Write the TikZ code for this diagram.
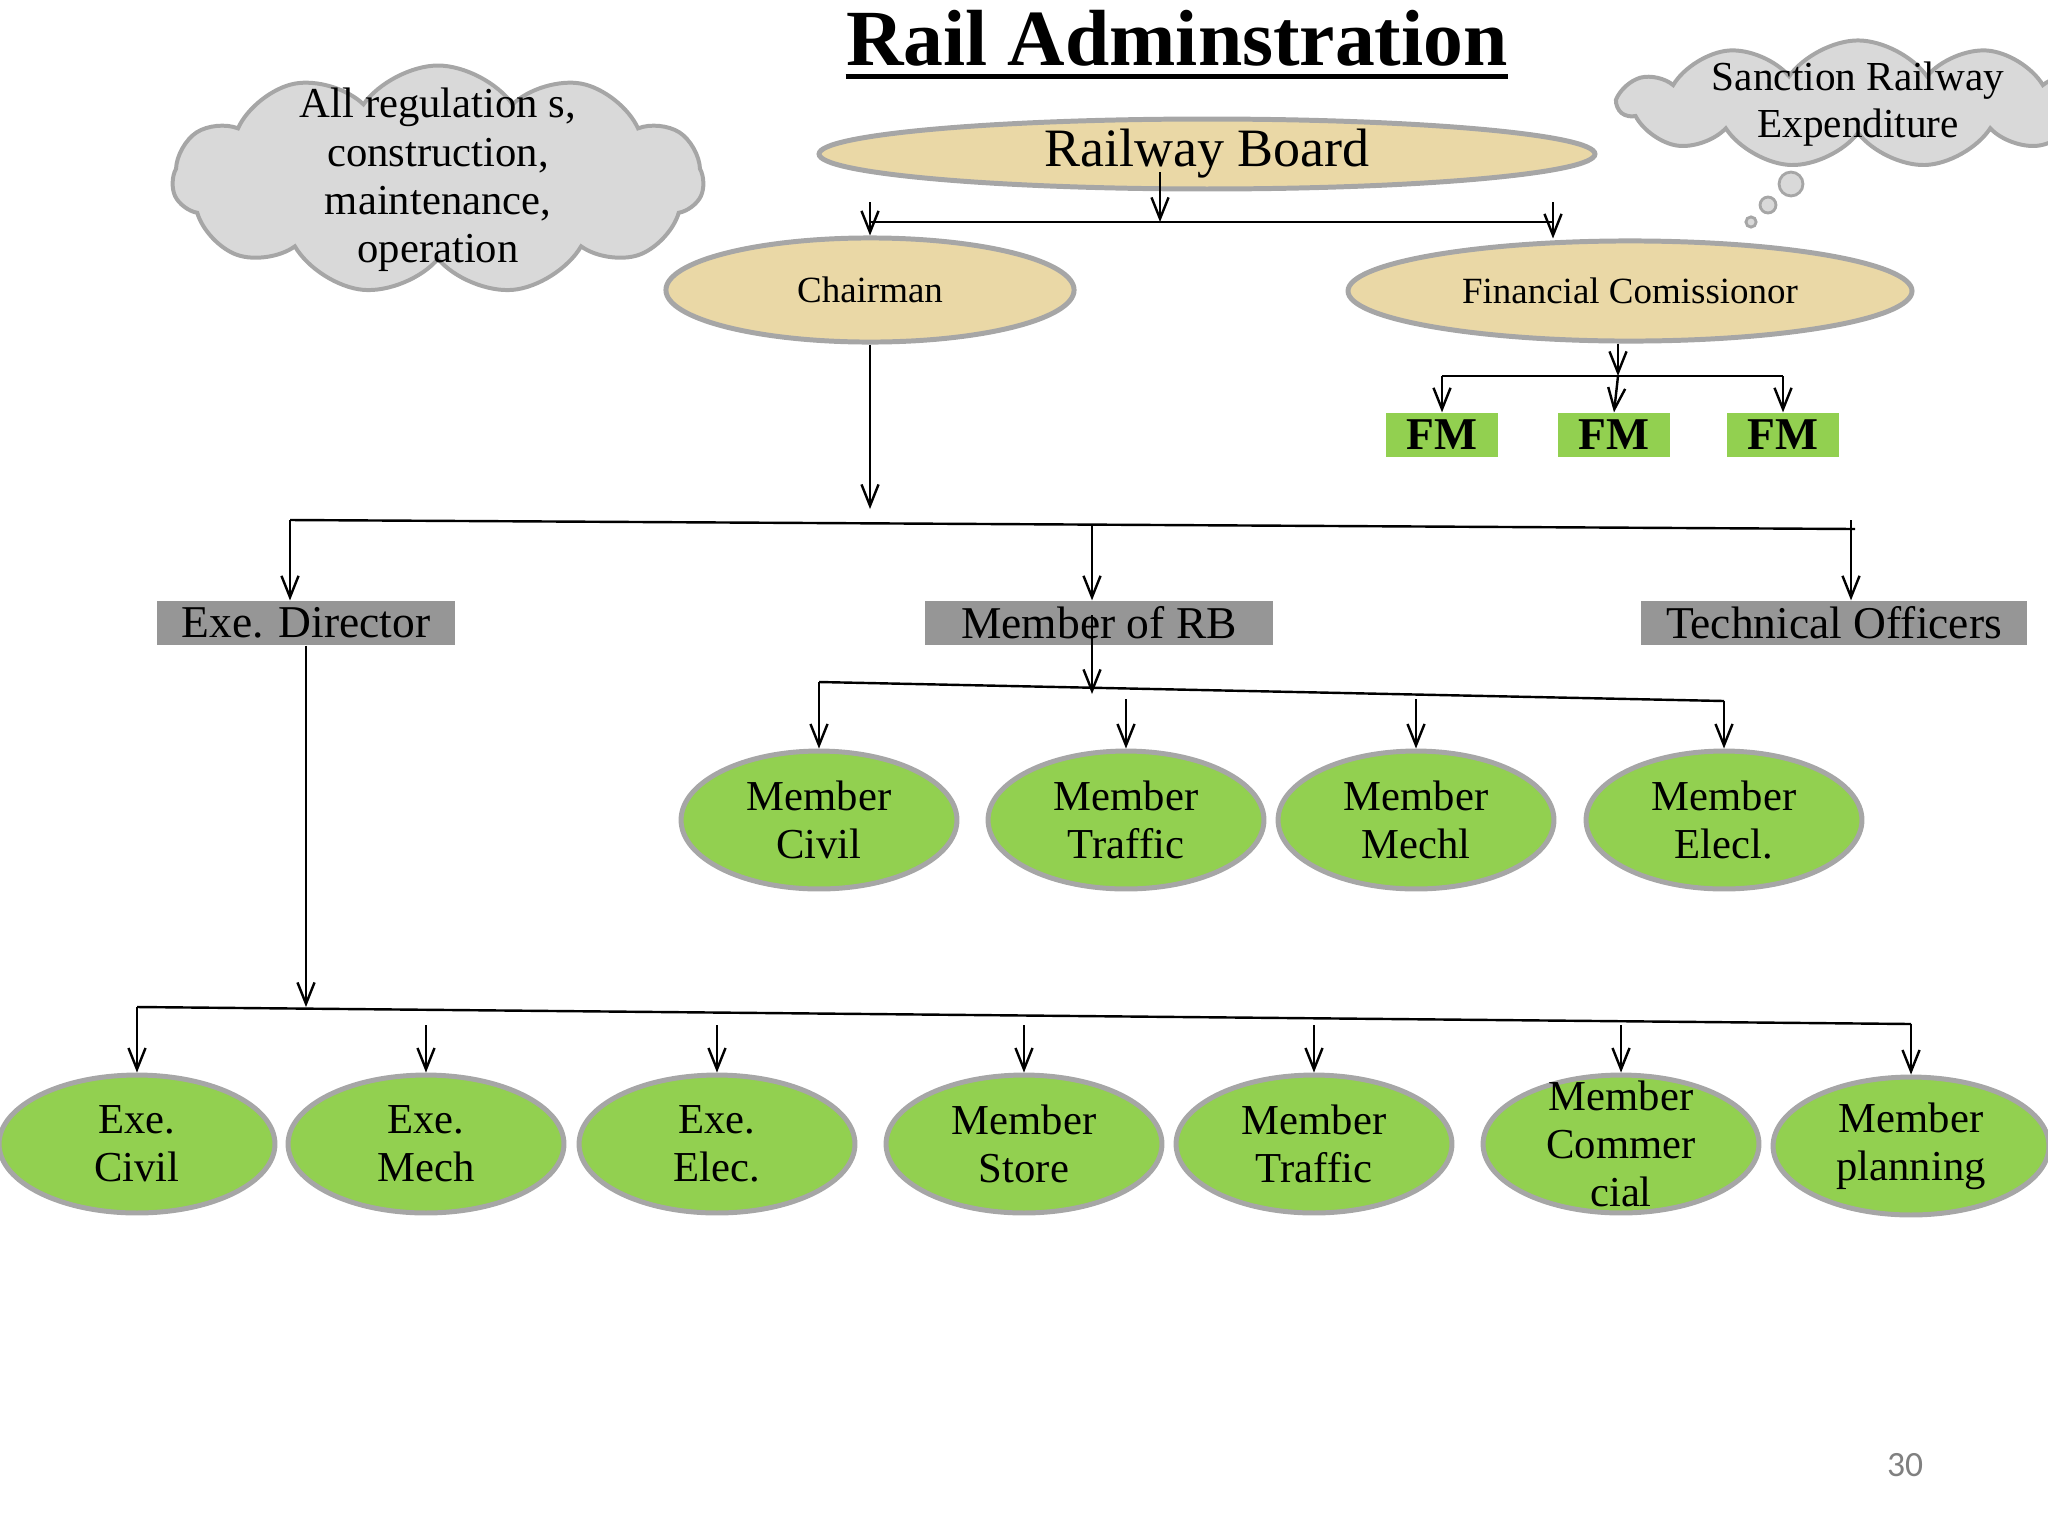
\documentclass[tikz,border=0pt]{standalone}
\usepackage{fontspec}
\setmainfont{Liberation Serif}
\newfontfamily\pagefont{Carlito}
\usetikzlibrary{positioning,shapes.geometric,shapes.symbols,arrows.meta}

\definecolor{papyrus}{RGB}{234,216,166}
\definecolor{leaf}{RGB}{146,208,80}
\definecolor{rim}{RGB}{166,166,166}
\definecolor{slate}{RGB}{150,150,150}
\definecolor{mist}{RGB}{217,217,217}
\definecolor{pagegray}{RGB}{128,128,128}

\tikzset{
  arr/.style={-{Straight Barb[length=7.5pt,width=6pt]},line width=0.85pt},
  link/.style={line width=0.85pt},
  papyrusoval/.style={ellipse,draw=rim,line width=1.75pt,fill=papyrus,inner sep=0pt},
  greenoval/.style={ellipse,draw=rim,line width=1.75pt,fill=leaf,minimum width=97pt,minimum height=48.5pt,
    inner xsep=0pt,inner ysep=-12pt,align=center,font=\fontsize{15}{17}\selectfont},
  greybar/.style={fill=slate,minimum height=15.5pt,inner sep=0pt,font=\fontsize{16}{18}\selectfont},
  fmbox/.style={fill=leaf,minimum width=39.4pt,minimum height=15.5pt,inner sep=0pt,font=\fontsize{16}{18}\selectfont\bfseries},
  thought/.style={cloud,cloud puffs=11,cloud puff arc=110,cloud ignores aspect,draw=rim,line width=1.4pt,fill=mist,
    inner sep=-30pt,align=center},
  bubble/.style={draw=rim,line width=1pt,fill=mist}
}

\begin{document}
\begin{tikzpicture}[x=0.3516pt,y=-0.3516pt]
\useasboundingbox (0,0) rectangle (2048,1536);

% heading
\node[font=\fontsize{28}{30}\selectfont\bfseries,inner sep=0pt,anchor=base] (title) at (1177,65) {Rail Adminstration};
\draw[line width=1.76pt] ([yshift=-3.9pt]title.base west) -- ([yshift=-3.9pt]title.base east);

% clouds
\node[thought,minimum width=186.7pt,minimum height=80.5pt,font=\fontsize{15}{17}\selectfont] (duties) at (438,180)
  {All regulation s,\\construction,\\maintenance,\\operation};
\node[thought,minimum width=168pt,minimum height=44.7pt,font=\fontsize{14.5}{16.5}\selectfont] (sanction) at (1858,104)
  {Sanction Railway\\Expenditure};
\draw[bubble] (1791,184) circle (4.2pt);
\draw[bubble] (1768,205) circle (2.8pt);
\draw[bubble] (1751,222) circle (1.8pt);

% board level
\node[papyrusoval,minimum width=272.8pt,minimum height=24.6pt,font=\fontsize{19}{21}\selectfont] (board) at (1207,154) {Railway Board};
\node[papyrusoval,minimum width=143.5pt,minimum height=36.6pt,font=\fontsize{13}{15}\selectfont] (chair) at (870,290) {Chairman};
\node[papyrusoval,minimum width=198.3pt,minimum height=35.2pt,font=\fontsize{13}{15}\selectfont] (fc) at (1630,291) {Financial Comissionor};

\node[fmbox] (fm1) at (1442,435) {FM};
\node[fmbox] (fm2) at (1614,435) {FM};
\node[fmbox] (fm3) at (1783,435) {FM};

% second level
\node[greybar,minimum width=104.8pt] (ed) at (306,623) {Exe. Director};
\node[greybar,minimum width=122.4pt] (mrb) at (1099,623) {Member of RB};
\node[greybar,minimum width=135.4pt] (tech) at (1834,623) {Technical Officers};

\node[greenoval] (mcivil) at (819,820) {Member\\Civil};
\node[greenoval] (mtraffic) at (1126,820) {Member\\Traffic};
\node[greenoval] (mmechl) at (1416,820) {Member\\Mechl};
\node[greenoval] (melec) at (1724,820) {Member\\Elecl.};

\node[greenoval] (ecivil) at (137,1144) {Exe.\\Civil};
\node[greenoval] (emech) at (426,1144) {Exe.\\Mech};
\node[greenoval] (eelec) at (717,1144) {Exe.\\Elec.};
\node[greenoval] (mstore) at (1024,1144) {Member\\Store};
\node[greenoval] (etraffic) at (1314,1144) {Member\\Traffic};
\node[greenoval] (mcomm) at (1621,1144) {Member\\Commer\\cial};
\node[greenoval] (mplan) at (1911,1146) {Member\\planning};

\node[font=\fontsize{12.5}{14}\selectfont\pagefont,text=pagegray] (pageno) at (1905,1465) {30};

% board -> chairman, commissioner
\coordinate (bjoin) at (1160,222);
\coordinate (chjoin) at (870,222);
\coordinate (fcjoin) at (1553,222);
\draw[link] (chjoin) -- (fcjoin);
\draw[arr] ([yshift=6.7pt]bjoin |- board.south) -- (bjoin);
\draw[arr] ([yshift=7pt]chjoin) -- (chair.north);
\draw[arr] ([yshift=7pt]fcjoin) -- (fcjoin |- fc.north);

% commissioner -> FM
\coordinate (fmjoin) at (1618,376);
\draw[arr] (fmjoin |- fc.south) -- (fmjoin);
\draw[link] (fm1.north |- fmjoin) -- (fm3.north |- fmjoin);
\draw[arr] (fm1.north |- fmjoin) -- (fm1.north);
\draw[arr] (fmjoin) -- (fm2.north);
\draw[arr] (fm3.north |- fmjoin) -- (fm3.north);

% chairman -> second level
\coordinate (chstop) at (870,509);
\coordinate (edjoin) at (290,520);
\coordinate (techjoin) at (1855,529);
\coordinate (rbjoin) at (1092,526);
\coordinate (techtick) at (1851,520);
\draw[arr] (chair.south) -- (chstop);
\draw[link] (edjoin) -- (techjoin);
\draw[arr] (edjoin) -- (edjoin |- ed.north);
\draw[arr] (rbjoin) -- (rbjoin |- mrb.north);
\draw[arr] (techtick) -- (techtick |- tech.north);

% member of RB -> members
\coordinate (rbstop) at (1092,694);
\coordinate (civjoin) at (819,682);
\coordinate (elecjoin) at (1724,701);
\coordinate (memstart) at (0,699);
\draw[arr] ([yshift=2.8pt]rbjoin |- mrb.center) -- (rbstop);
\draw[link] (civjoin) -- (elecjoin);
\draw[arr] (civjoin) -- (mcivil.north);
\draw[arr] (mtraffic.north |- memstart) -- (mtraffic.north);
\draw[arr] (mmechl.north |- memstart) -- (mmechl.north);
\draw[arr] (elecjoin) -- (melec.north);

% exe. director -> bottom row
\coordinate (ecivjoin) at (137,1007);
\coordinate (planjoin) at (1911,1024);
\coordinate (botstart) at (0,1025);
\draw[arr] (ed.south) -- (ed.south |- ecivjoin);
\draw[link] (ecivjoin) -- (planjoin);
\draw[arr] (ecivjoin) -- (ecivil.north);
\draw[arr] (emech.north |- botstart) -- (emech.north);
\draw[arr] (eelec.north |- botstart) -- (eelec.north);
\draw[arr] (mstore.north |- botstart) -- (mstore.north);
\draw[arr] (etraffic.north |- botstart) -- (etraffic.north);
\draw[arr] (mcomm.north |- botstart) -- (mcomm.north);
\draw[arr] (planjoin) -- (mplan.north);
\end{tikzpicture}
\end{document}
